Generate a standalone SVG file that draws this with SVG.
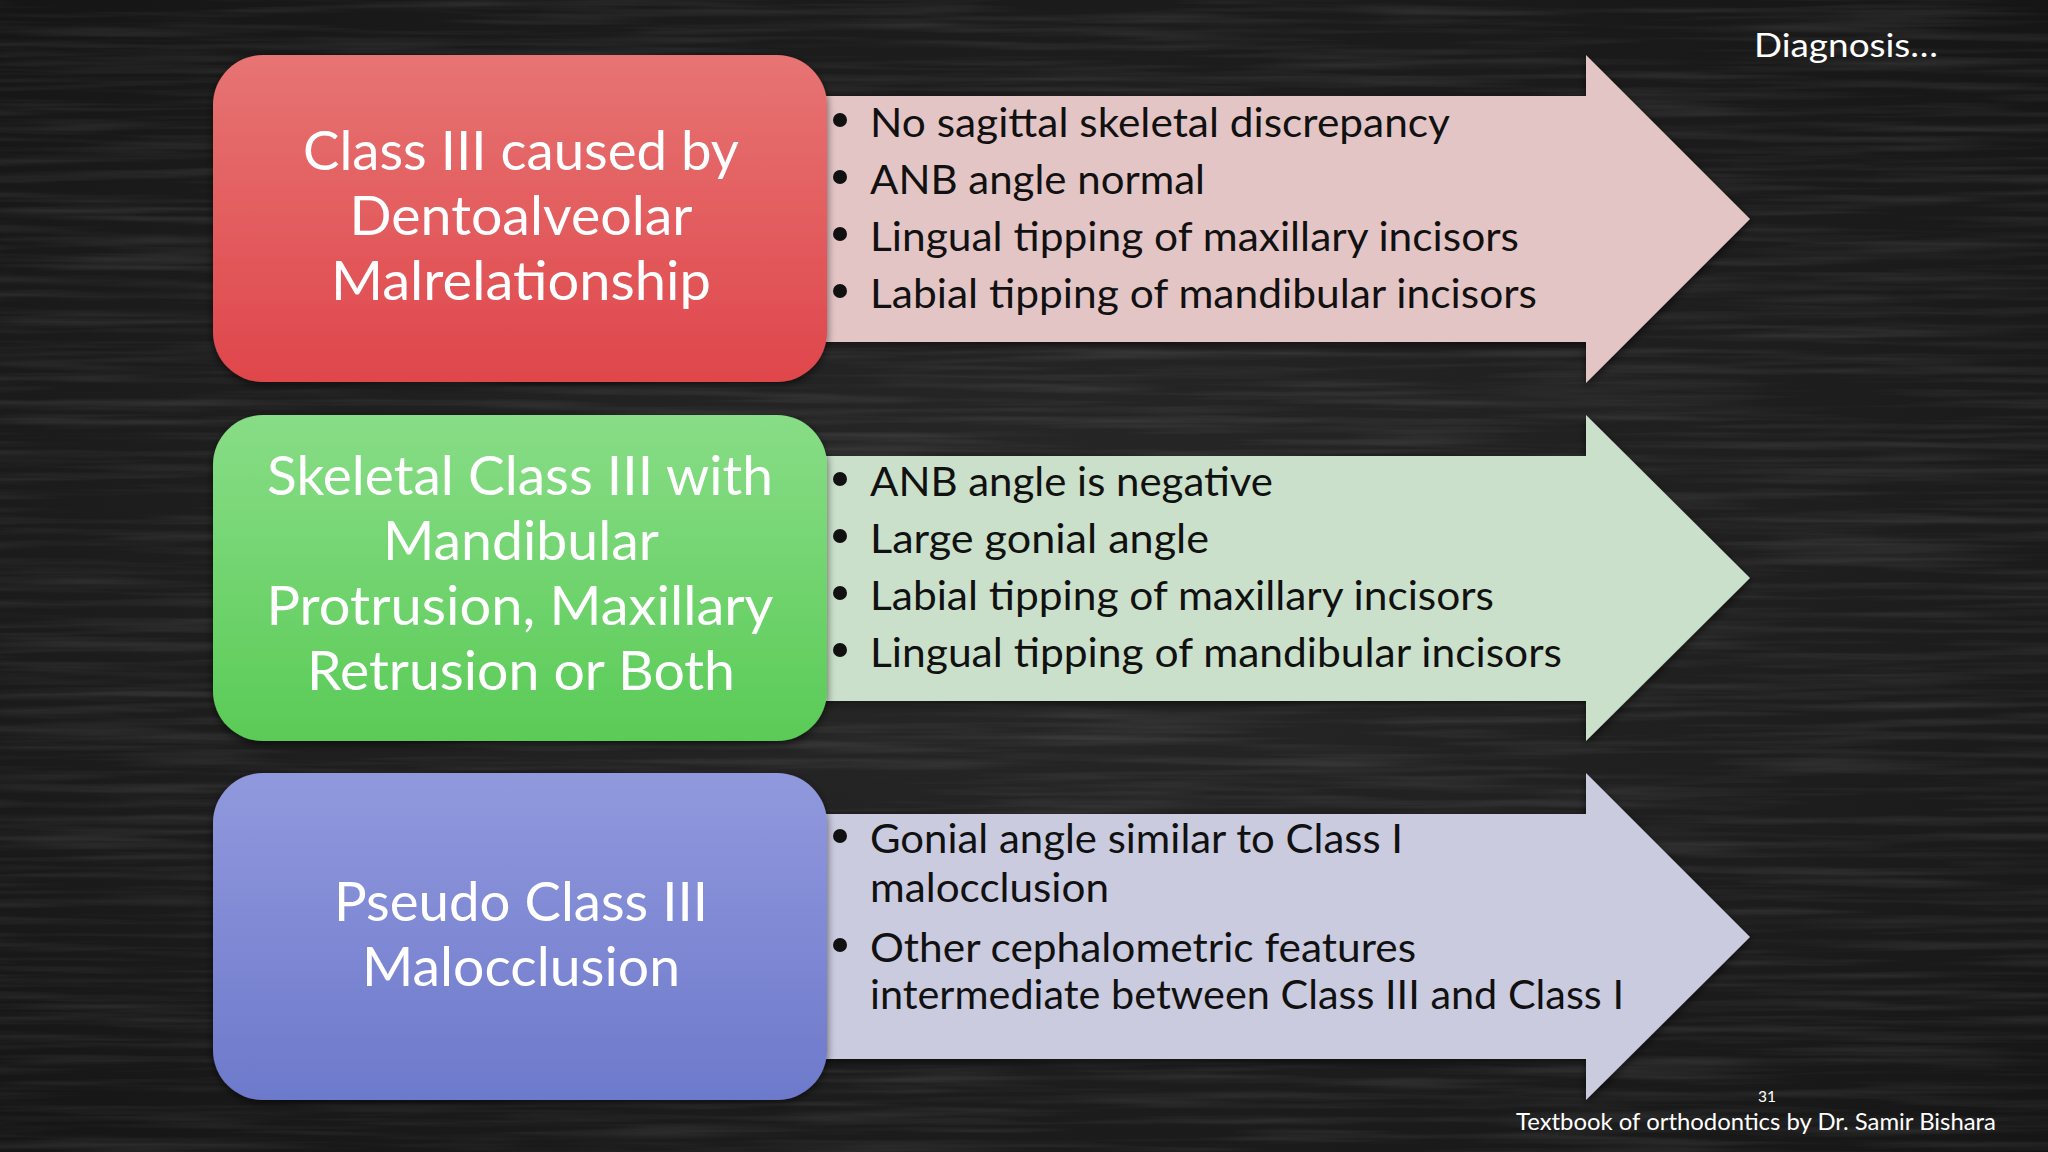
<svg xmlns="http://www.w3.org/2000/svg" width="2048" height="1152" viewBox="0 0 2048 1152">
<defs>
<style>
.boxt{font-family:Lato,"Liberation Sans",sans-serif;font-size:54px;fill:#ffffff;text-anchor:middle}
.bt{font-family:Lato,"Liberation Sans",sans-serif;font-size:40px;fill:#111111}
.dot{fill:#111111}
.hdr{font-family:Lato,"Liberation Sans",sans-serif;font-size:33px;fill:#ffffff}
.ft{font-family:Lato,"Liberation Sans",sans-serif;font-size:24px;fill:#ffffff}
.pg{font-family:Lato,"Liberation Sans",sans-serif;font-size:16px;fill:#ffffff}
</style>
<linearGradient id="gRed" x1="0" y1="0" x2="0" y2="1">
<stop offset="0" stop-color="#e77473"/><stop offset="1" stop-color="#df464b"/>
</linearGradient>
<linearGradient id="gGreen" x1="0" y1="0" x2="0" y2="1">
<stop offset="0" stop-color="#88dd86"/><stop offset="1" stop-color="#5acb57"/>
</linearGradient>
<linearGradient id="gBlue" x1="0" y1="0" x2="0" y2="1">
<stop offset="0" stop-color="#9199dd"/><stop offset="1" stop-color="#6d79cb"/>
</linearGradient>
<radialGradient id="vig" cx="0.5" cy="0.5" r="0.75">
<stop offset="0" stop-color="#292929"/><stop offset="1" stop-color="#141414"/>
</radialGradient>
<filter id="chalk" x="0" y="0" width="100%" height="100%">
<feTurbulence type="fractalNoise" baseFrequency="0.004 0.12" numOctaves="3" seed="4"/>
<feColorMatrix type="matrix" values="0 0 0 0 1  0 0 0 0 1  0 0 0 0 1  0 0 0 0.55 -0.22"/>
</filter>
<filter id="sh" x="-5%" y="-5%" width="110%" height="115%">
<feGaussianBlur in="SourceAlpha" stdDeviation="4"/>
<feOffset dx="0" dy="3" result="b"/>
<feComponentTransfer><feFuncA type="linear" slope="0.6"/></feComponentTransfer>
<feMerge><feMergeNode/><feMergeNode in="SourceGraphic"/></feMerge>
</filter>
</defs>

<rect x="0" y="0" width="2048" height="1152" fill="url(#vig)"/>
<rect x="0" y="0" width="2048" height="1152" filter="url(#chalk)" opacity="0.35"/>

<text class="hdr" x="1754" y="57" textLength="184" lengthAdjust="spacingAndGlyphs">Diagnosis…</text>

<g id="connectors">
<g id="arrow-red">
<polygon points="800,96 1586,96 1586,55 1750,219 1586,383 1586,342 800,342" fill="#e4c5c6" filter="url(#sh)"/>
<circle class="dot" cx="840" cy="120" r="7"/>
<circle class="dot" cx="840" cy="177" r="7"/>
<circle class="dot" cx="840" cy="234" r="7"/>
<circle class="dot" cx="840" cy="291" r="7"/>
<text class="bt" x="870" y="137" textLength="580" lengthAdjust="spacingAndGlyphs">No sagittal skeletal discrepancy</text>
<text class="bt" x="870" y="194" textLength="335" lengthAdjust="spacingAndGlyphs">ANB angle normal</text>
<text class="bt" x="870" y="251" textLength="649" lengthAdjust="spacingAndGlyphs">Lingual tipping of maxillary incisors</text>
<text class="bt" x="870" y="308" textLength="667" lengthAdjust="spacingAndGlyphs">Labial tipping of mandibular incisors</text>
</g>
<g id="arrow-green">
<polygon points="800,456 1586,456 1586,415 1750,578 1586,741 1586,701 800,701" fill="#cbe0ca" filter="url(#sh)"/>
<circle class="dot" cx="840" cy="479" r="7"/>
<circle class="dot" cx="840" cy="536" r="7"/>
<circle class="dot" cx="840" cy="593" r="7"/>
<circle class="dot" cx="840" cy="650" r="7"/>
<text class="bt" x="870" y="496" textLength="403" lengthAdjust="spacingAndGlyphs">ANB angle is negative</text>
<text class="bt" x="870" y="553" textLength="339" lengthAdjust="spacingAndGlyphs">Large gonial angle</text>
<text class="bt" x="870" y="610" textLength="624" lengthAdjust="spacingAndGlyphs">Labial tipping of maxillary incisors</text>
<text class="bt" x="870" y="667" textLength="692" lengthAdjust="spacingAndGlyphs">Lingual tipping of mandibular incisors</text>
</g>
<g id="arrow-blue">
<polygon points="800,814 1586,814 1586,773 1750,937 1586,1100 1586,1059 800,1059" fill="#cbcbdf" filter="url(#sh)"/>
<circle class="dot" cx="840" cy="836" r="7"/>
<circle class="dot" cx="840" cy="945" r="7"/>
<text class="bt" x="870" y="853" textLength="533" lengthAdjust="spacingAndGlyphs">Gonial angle similar to Class I</text>
<text class="bt" x="870" y="902" textLength="239" lengthAdjust="spacingAndGlyphs">malocclusion</text>
<text class="bt" x="870" y="962" textLength="546" lengthAdjust="spacingAndGlyphs">Other cephalometric features</text>
<text class="bt" x="870" y="1009" textLength="754" lengthAdjust="spacingAndGlyphs">intermediate between Class III and Class I</text>
</g>
</g>

<g id="node-red">
<rect x="213" y="55" width="614" height="327" rx="50" fill="url(#gRed)" filter="url(#sh)"/>
<text class="boxt" x="521" y="170" textLength="436" lengthAdjust="spacingAndGlyphs">Class III caused by</text>
<text class="boxt" x="521" y="235" textLength="343" lengthAdjust="spacingAndGlyphs">Dentoalveolar</text>
<text class="boxt" x="521" y="300" textLength="380" lengthAdjust="spacingAndGlyphs">Malrelationship</text>
</g>
<g id="node-green">
<rect x="213" y="415" width="614" height="326" rx="50" fill="url(#gGreen)" filter="url(#sh)"/>
<text class="boxt" x="520" y="495" textLength="506" lengthAdjust="spacingAndGlyphs">Skeletal Class III with</text>
<text class="boxt" x="521" y="560" textLength="276" lengthAdjust="spacingAndGlyphs">Mandibular</text>
<text class="boxt" x="520" y="625" textLength="507" lengthAdjust="spacingAndGlyphs">Protrusion, Maxillary</text>
<text class="boxt" x="521" y="690" textLength="428" lengthAdjust="spacingAndGlyphs">Retrusion or Both</text>
</g>
<g id="node-blue">
<rect x="213" y="773" width="614" height="327" rx="50" fill="url(#gBlue)" filter="url(#sh)"/>
<text class="boxt" x="521" y="921" textLength="374" lengthAdjust="spacingAndGlyphs">Pseudo Class III</text>
<text class="boxt" x="521" y="986" textLength="318" lengthAdjust="spacingAndGlyphs">Malocclusion</text>
</g>

<text class="pg" x="1758" y="1102" textLength="18" lengthAdjust="spacingAndGlyphs">31</text>
<text class="ft" x="1516" y="1130" textLength="480" lengthAdjust="spacingAndGlyphs">Textbook of orthodontics by Dr. Samir Bishara</text>
</svg>
